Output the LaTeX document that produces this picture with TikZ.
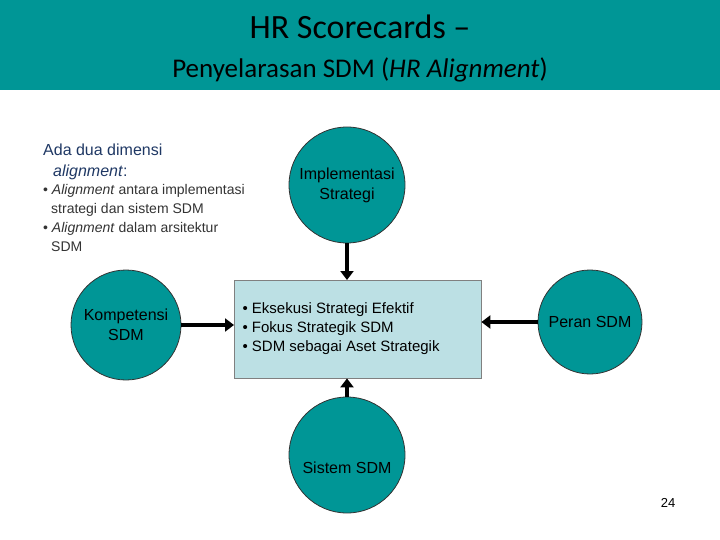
\documentclass[tikz,border=0pt]{standalone}
\usepackage{fontspec}
\setmainfont{Liberation Sans}
\newfontfamily\titlefont{Carlito}
\usetikzlibrary{arrows.meta}
\definecolor{teal1}{RGB}{0,150,150}
\definecolor{boxblue}{RGB}{188,224,228}
\definecolor{navy}{RGB}{31,56,100}
\begin{document}
\begin{tikzpicture}[x=1pt,y=-1pt,
  circ/.style={circle,draw=black!80,line width=0.8pt,fill=teal1,align=center,font=\fontsize{16}{20}\selectfont,inner sep=0pt},
  arr/.style={line width=3.5pt,-{Triangle[length=9pt,width=13pt]}}]
\useasboundingbox (0,0) rectangle (720,540);
\fill[teal1] (0,0) rectangle (720,90);
\node[font=\titlefont\fontsize{34}{40}\selectfont] (t1) at (360,27) {HR Scorecards –};
\node[font=\titlefont\fontsize{27}{32}\selectfont] (t2) at (360,70) {Penyelarasan SDM (\textit{HR Alignment})};
\node[anchor=north west,align=left,text=navy,font=\fontsize{16}{21}\selectfont,inner sep=0pt] (ada) at (43,144) {Ada dua dimensi\\\hspace*{10pt}\textit{alignment}:};
\node[anchor=north west,align=left,text=black!80,font=\fontsize{14}{19}\selectfont,inner sep=0pt] (bul) at (43,184)
 {• \textit{Alignment} antara implementasi\\\hspace*{8pt}strategi dan sistem SDM\\• \textit{Alignment} dalam arsitektur\\\hspace*{8pt}SDM};
\node[circ,minimum size=116pt] (imp) at (347,185) {Implementasi\\Strategi};
\node[circ,minimum size=110pt] (komp) at (126,325) {Kompetensi\\SDM};
\node[circ,minimum size=104pt] (peran) at (590,322) {Peran SDM};
\node[circ,minimum size=116pt] (sis) at (347,455) {};
\node[font=\fontsize{16}{20}\selectfont] (sistxt) at (347,468) {Sistem SDM};
\node[draw=black!50,fill=boxblue,minimum width=247pt,minimum height=98pt,anchor=north west,inner sep=0pt] (box) at (234,280) {};
\node[anchor=west,align=left,font=\fontsize{15}{19}\selectfont] (btxt) at (239,329) {• Eksekusi Strategi Efektif\\• Fokus Strategik SDM\\• SDM sebagai Aset Strategik};
\draw[arr] (imp) -- (imp|-box.north);
\draw[arr] (sis) -- (sis|-box.south);
\draw[arr] (komp) -- (box.west|-komp);
\draw[arr] (peran) -- (box.east|-peran);
\node[font=\fontsize{13}{15}\selectfont] (pg) at (668,503) {24};
\end{tikzpicture}
\end{document}
